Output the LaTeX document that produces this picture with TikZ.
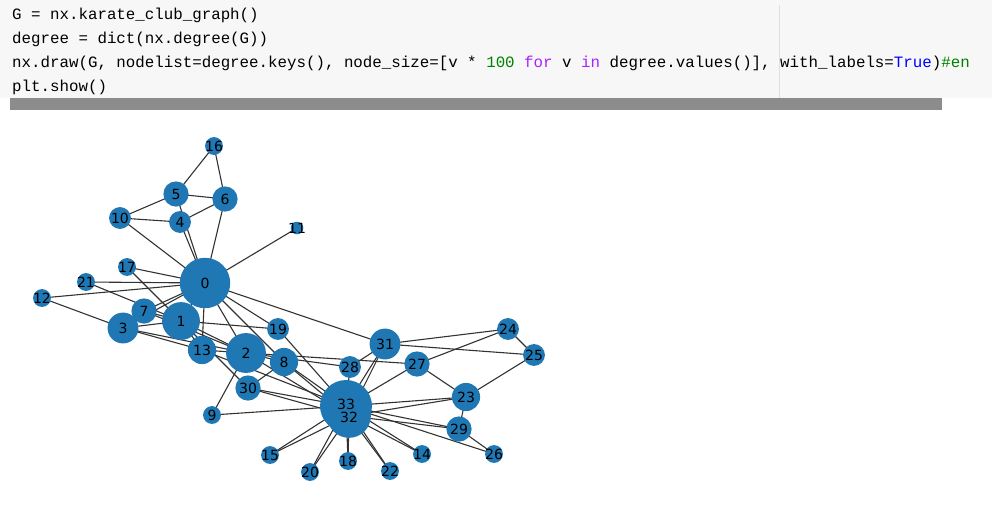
\documentclass[tikz,border=0pt]{standalone}
\usepackage{fontspec}
\setmonofont{Liberation Mono}
\setsansfont{DejaVu Sans}
\definecolor{nb}{HTML}{1F77B4}
\definecolor{kw}{HTML}{AA22FF}
\definecolor{num}{HTML}{008000}
\definecolor{tr}{HTML}{0000FF}
\begin{document}
\begin{tikzpicture}[x=1pt,y=-1pt,
  codetxt/.style={anchor=base west,inner sep=0,font=\ttfamily\fontsize{15.8}{16}\selectfont},
  gnode/.style={circle,fill=nb,inner sep=0,minimum size=#1},
  lbl/.style={font=\sffamily\fontsize{14}{14}\selectfont,inner sep=0},
  edge/.style={draw=black!80,line width=1.1pt}]
\useasboundingbox (0,0) rectangle (992,522);
\fill[black!3] (0,0) rectangle (992,98);
\draw[black!12] (779,5) -- (779,110);
\fill[black!45] (10,98) rectangle (942,110);
\node[codetxt] (l1) at (12,19) {G = nx.karate\_club\_graph()};
\node[codetxt] (l2) at (12,43) {degree = dict(nx.degree(G))};
\node[codetxt] (l3) at (12,67) {nx.draw(G, nodelist=degree.keys(), node\_size=[v * \textcolor{num}{100} \textcolor{kw}{for} v \textcolor{kw}{in} degree.values()], with\_labels=\textcolor{tr}{True})\textcolor{num}{\#en}};
\node[codetxt] (l4) at (12,91) {plt.show()};
% coordinates
\foreach \n/\x/\y in {0/205/283,1/181/321,2/246/353,3/123/328,4/180/222,5/176/194,6/225/199,7/144/311,8/284/362,9/212/415,10/120/218,11/297/228,12/42/298,13/202/350,14/422/454,15/270/455,16/214/146,17/127/267,18/348/461,19/278/329,20/310/472,21/86/282,22/390/471,23/466/397,24/508/329,25/534/355,26/494/454,27/417/364,28/350/367,29/459/429,30/248/388,31/385/344,32/349/416,33/346/406}
  \coordinate (c\n) at (\x,\y);
\foreach \a/\b in {0/1,0/2,0/3,0/4,0/5,0/6,0/7,0/8,0/10,0/11,0/12,0/13,0/17,0/19,0/21,0/31,
  1/2,1/3,1/7,1/13,1/17,1/19,1/21,1/30,2/3,2/7,2/8,2/9,2/13,2/27,2/28,2/32,3/7,3/12,3/13,
  4/6,4/10,5/6,5/10,5/16,6/16,8/30,8/32,8/33,9/33,13/33,14/32,14/33,15/32,15/33,18/32,18/33,
  19/33,20/32,20/33,22/32,22/33,23/25,23/27,23/29,23/32,23/33,24/25,24/27,24/31,25/31,26/29,26/33,
  27/33,28/31,28/33,29/32,29/33,30/32,30/33,31/32,31/33,32/33}
  \draw[edge] (c\a) -- (c\b);
\foreach \n/\d in {0/16,1/9,2/10,3/6,4/3,5/4,6/4,7/4,8/5,9/2,10/3,11/1,12/2,13/5,14/2,15/2,16/2,17/2,18/2,19/3,20/2,21/2,22/2,23/5,24/3,25/3,26/2,27/4,28/3,29/4,30/4,31/6,32/12,33/17}
  \node[gnode={12.6*sqrt(\d)}] (n\n) at (c\n) {};
\foreach \n in {0,...,31}
  \node[lbl] (t\n) at (c\n) {\n};
\node[lbl] (t33) at (346,404) {33};
\node[lbl] (t32) at (349,417) {32};
\end{tikzpicture}
\end{document}
